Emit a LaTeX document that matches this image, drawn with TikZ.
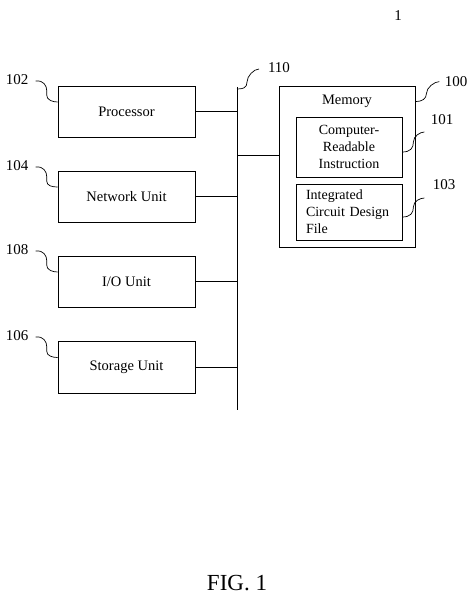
\documentclass[tikz,border=0pt]{standalone}
\usepackage{fontspec}
\setmainfont{Liberation Serif}
\begin{document}
\begin{tikzpicture}[x=1pt,y=-1pt,
  line width=0.8pt,
  box/.style={draw, inner sep=0pt, font=\fontsize{14.5}{17}\selectfont},
  ibox/.style={draw, inner sep=0pt, font=\fontsize{14}{17}\selectfont},
  num/.style={font=\fontsize{15}{17}\selectfont, inner sep=0pt},
  lead/.style={line width=0.7pt}]
\useasboundingbox (0,0) rectangle (474,604);

\node[num] (fig1) at (398,16) {1};

% left boxes
\node[box, minimum width=137pt, minimum height=51pt] (proc) at (126.5,111.5) {Processor};
\node[box, minimum width=137pt, minimum height=51pt] (net) at (126.5,196.5) {Network Unit};
\node[box, minimum width=137pt, minimum height=51pt] (io) at (126.5,281.5) {I/O Unit};
\node[box, minimum width=137pt, minimum height=52pt] (sto) at (126.5,367) {Storage Unit};

% bus
\coordinate (bt) at (237,87);
\coordinate (bb) at (237,410);
\draw (bt) -- (bb);
\draw (proc.east) -- (proc.east -| bt);
\draw (net.east) -- (net.east -| bt);
\draw (io.east) -- (io.east -| bt);
\draw (sto.east) -- (sto.east -| bt);

% memory
\node[box, minimum width=136pt, minimum height=161pt] (mem) at (347,166.5) {};
\node[font=\fontsize{14.5}{17}\selectfont, inner sep=0pt] (memt) at (347,101) {Memory};
\node[ibox, minimum width=106pt, minimum height=60pt, align=center] (cri) at (349,147)
  {Computer-\\Readable\\Instruction};
\node[ibox, minimum height=56pt, text width=86pt, inner xsep=10pt, align=left] (icd) at (349,212)
  {Integrated\\Circuit Design\\File};
\coordinate (mc) at (237,155);
\draw (mc) -- (mc -| mem.west);

% reference labels
\node[num] (l102) at (17,80) {102};
\node[num] (l104) at (17,166) {104};
\node[num] (l108) at (17,250) {108};
\node[num] (l106) at (17,336) {106};
\node[num] (l110) at (279,68) {110};
\node[num] (l100) at (456,82) {100};
\node[num] (l101) at (442,120) {101};
\node[num] (l103) at (444,185) {103};

% leaders (left)
\foreach \l/\n in {l102/proc, l104/net, l108/io, l106/sto}{
  \draw[lead] ([xshift=7pt,yshift=-1pt]\l.east) .. controls +(8,-1) and +(0,-4) .. ++(11,9)
     -- ++(0,5) .. controls +(0,5) and +(-5,0) .. ([yshift=9.5pt]\n.west);
}
% 110
\draw[lead] ([yshift=-2pt]bt) .. controls +(6,0) and +(0,6) .. ++(10,-7)
   .. controls +(0,-6) and +(-5,0) .. ++(12,-13);
% 100
\draw[lead] ([yshift=-16pt]mem.north east) .. controls +(7,0) and +(0,5) .. ++(11,-8)
   .. controls +(0,-6) and +(-5,0) .. ++(13,-12);
% 101
\draw[lead] ([yshift=-5pt]cri.east) .. controls +(8,0) and +(0,6) .. ++(11,-10)
   .. controls +(0,-6) and +(-4,0) .. ++(11,-10);
% 103
\draw[lead] ([yshift=-5pt]icd.east) .. controls +(8,0) and +(0,6) .. ++(11,-10)
   .. controls +(0,-6) and +(-4,0) .. ++(11,-9);

\node[font=\fontsize{23}{25}\selectfont, inner sep=0pt] (cap) at (237,583) {FIG. 1};
\end{tikzpicture}
\end{document}
